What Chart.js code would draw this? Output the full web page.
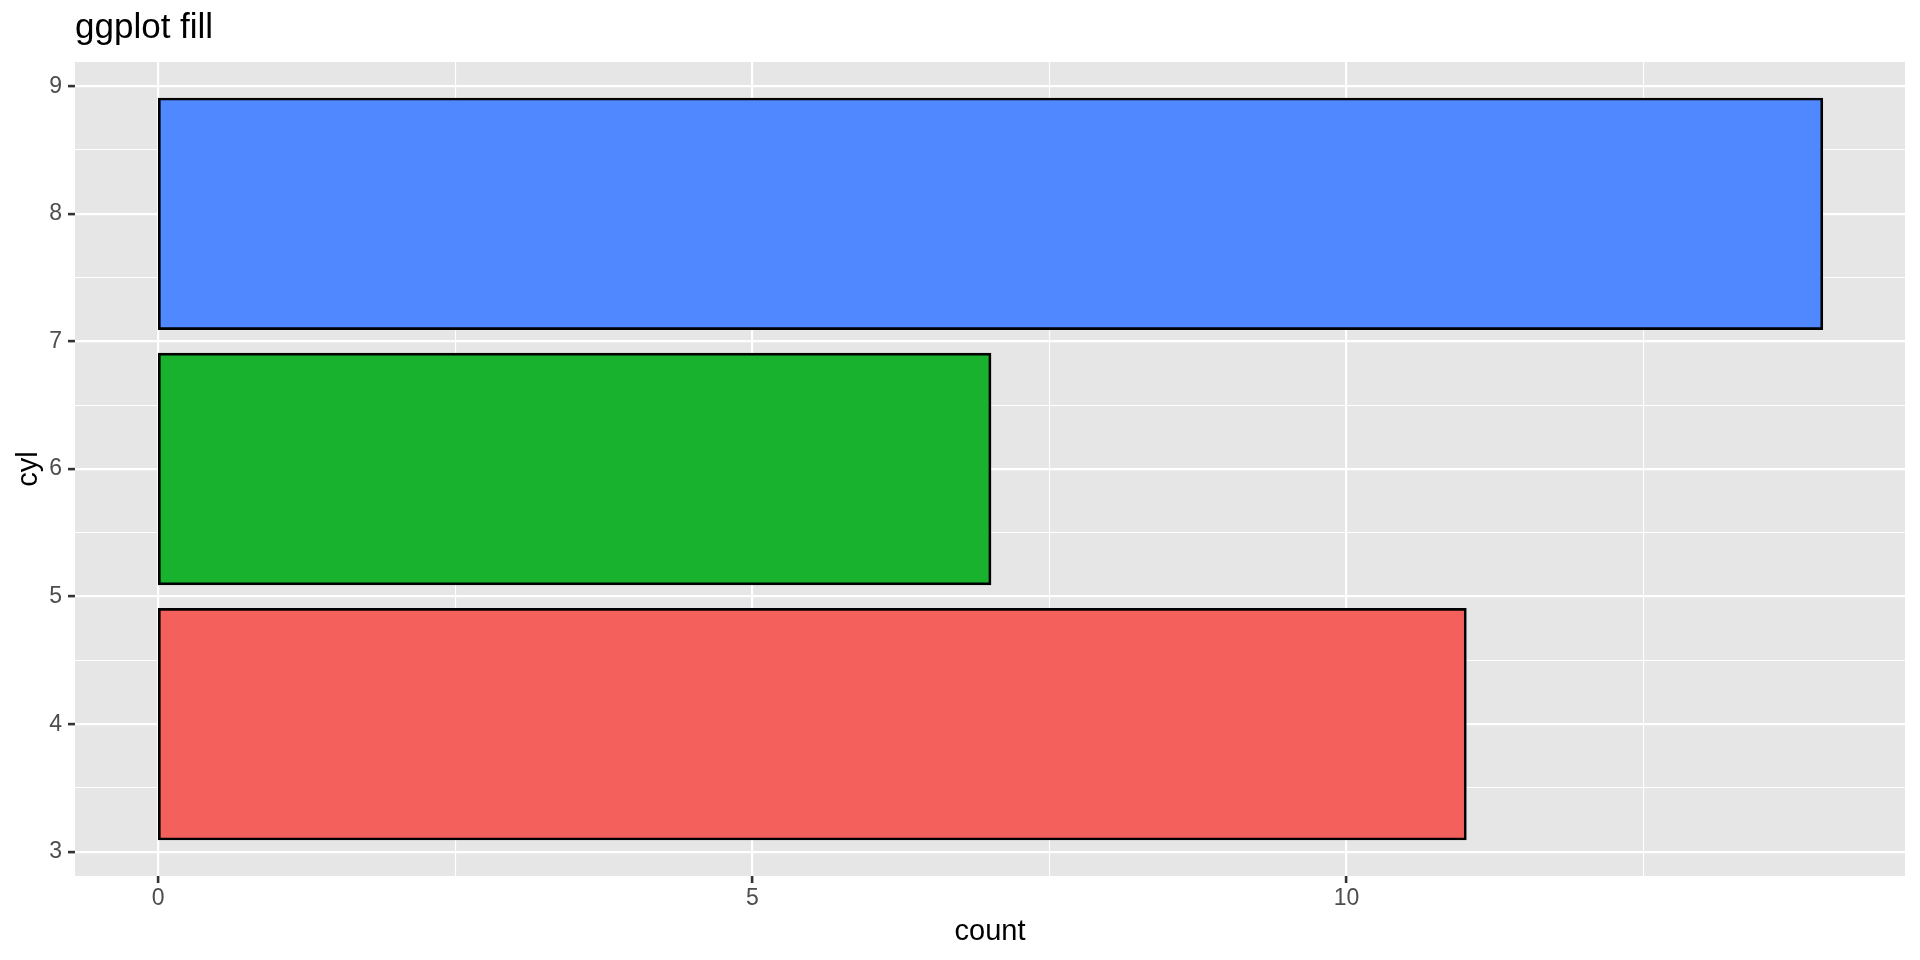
<!DOCTYPE html>
<html>
<head>
<meta charset="utf-8">
<script src="https://cdn.jsdelivr.net/npm/chart.js@4"></script>
<style>
  html, body { margin: 0; padding: 0; background: #ffffff; }
  canvas { display: block; }
</style>
</head>
<body>
<canvas id="chartCanvas" width="1920" height="960"></canvas>
<script>
// data: number of cars per cylinder count (mtcars)
const cylValues = [4, 6, 8];
const countValues = [11, 7, 14];
const barColors = ['#F4605C', '#19B22F', '#5088FF'];

// axes
const xTicks = [0, 2.5, 5, 7.5, 10, 12.5];
const xMajor = [0, 5, 10];
const xRange = [-0.7, 14.7];
const yTicks = [3, 3.5, 4, 4.5, 5, 5.5, 6, 6.5, 7, 7.5, 8, 8.5, 9];
const yMajor = [3, 4, 5, 6, 7, 8, 9];
const yRange = [2.81, 9.19];
const barWidth = 1.8;   // in cyl units
const yMinorStep = 0.5;

const FONT = '"Liberation Sans", Arial, Helvetica, sans-serif';

// grey panel like theme_gray()
const panelBg = {
    id: 'panelBg',
    beforeDraw(chart) {
        const { ctx, chartArea: a } = chart;
        ctx.save();
        ctx.fillStyle = '#E6E6E6';
        ctx.fillRect(a.left, a.top, a.right - a.left, a.bottom - a.top);
        ctx.restore();
    }
};

function gridStyle(major) {
    return {
        offset: false,
        color: '#FFFFFF',
        lineWidth: ctx => major.includes(ctx.tick && ctx.tick.value) ? 2.2 : 1.1,
        tickColor: ctx => major.includes(ctx.tick && ctx.tick.value) ? '#333333' : 'rgba(0,0,0,0)',
        tickWidth: 2.6,
        tickLength: 7,
        drawTicks: true
    };
}

window.addEventListener('load', () => {
    const ctx = document.getElementById('chartCanvas').getContext('2d');

    new Chart(ctx, {
        type: 'bar',
        data: {
            datasets: [{
                data: cylValues.map((c, i) => ({ x: countValues[i], y: c })),
                backgroundColor: barColors,
                borderColor: '#000000',
                borderWidth: 2.7,
                borderSkipped: false,
                // ggplot centres the outline on the bar edge, Chart.js draws it inside
                inflateAmount: 1.35,
                categoryPercentage: 1,
                // bar pitch is the minor tick step, so scale it up to barWidth units
                barPercentage: barWidth / yMinorStep
            }]
        },
        options: {
            indexAxis: 'y',
            responsive: false,
            devicePixelRatio: 1,
            animation: false,
            layout: { padding: { left: 0, right: 15, top: 0, bottom: 0 } },
            plugins: {
                legend: { display: false },
                tooltip: { enabled: false },
                title: {
                    display: true,
                    text: 'ggplot fill',
                    align: 'start',
                    fullSize: false,
                    color: '#000000',
                    font: { family: FONT, size: 35, weight: 'normal', lineHeight: 1.2 },
                    padding: { top: 7.2, bottom: 12.8 }
                }
            },
            scales: {
                x: {
                    type: 'linear',
                    position: 'bottom',
                    offset: false,
                    min: xRange[0],
                    max: xRange[1],
                    afterBuildTicks: s => { s.ticks = xTicks.map(v => ({ value: v })); },
                    afterFit: s => { s.height = 84; },
                    grid: gridStyle(xMajor),
                    border: { display: false },
                    ticks: {
                        color: '#4D4D4D',
                        font: { family: FONT, size: 23 },
                        padding: 2,
                        maxRotation: 0,
                        autoSkip: false,
                        callback: v => xMajor.includes(v) ? String(v) : ''
                    },
                    title: {
                        display: true,
                        text: 'count',
                        color: '#000000',
                        font: { family: FONT, size: 29 },
                        padding: { top: 0, bottom: 11 }
                    }
                },
                y: {
                    type: 'linear',
                    position: 'left',
                    offset: false,
                    min: yRange[0],
                    max: yRange[1],
                    afterBuildTicks: s => { s.ticks = yTicks.map(v => ({ value: v })); },
                    afterFit: s => { s.width = 75; },
                    grid: gridStyle(yMajor),
                    border: { display: false },
                    ticks: {
                        color: '#4D4D4D',
                        font: { family: FONT, size: 23 },
                        padding: 6,
                        autoSkip: false,
                        callback: v => yMajor.includes(v) ? String(v) : ''
                    },
                    title: {
                        display: true,
                        text: 'cyl',
                        color: '#000000',
                        font: { family: FONT, size: 29 },
                        padding: { top: 11.5, bottom: 0 }
                    }
                }
            }
        },
        plugins: [panelBg]
    });
});
</script>
</body>
</html>
